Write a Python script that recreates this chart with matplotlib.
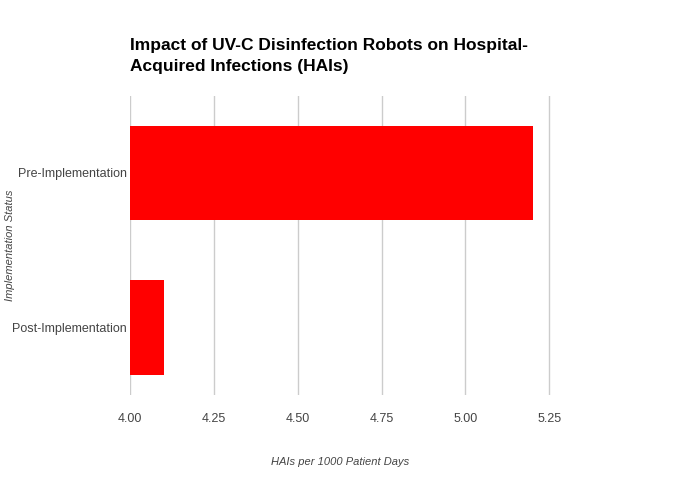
import matplotlib
matplotlib.use("Agg")
import matplotlib.pyplot as plt

plt.rcParams["font.family"] = ["Liberation Sans", "DejaVu Sans"]

categories = ["Post-Implementation", "Pre-Implementation"]
hai_rates = [4.1, 5.2]
x_ticks = [4.00, 4.25, 4.50, 4.75, 5.00, 5.25]
base = 4.0

fig = plt.figure(figsize=(6.8, 5.0), dpi=100)
ax = fig.add_axes([130 / 680, 105 / 500, 421 / 680, 299 / 500])

ypos = list(range(len(categories)))
ax.barh(ypos, [v - base for v in hai_rates], left=base, height=0.61, color="#ff0000", zorder=2)

ax.set_xlim(4.0, 5.255)
ax.set_ylim(-0.437, 1.498)
ax.set_xticks(x_ticks)
ax.set_xticklabels([f"{t:.2f}" for t in x_ticks])
ax.set_yticks(ypos)
ax.set_yticklabels(categories)
ax.grid(axis="x", color="#cccccc", linewidth=1, zorder=0)
ax.tick_params(axis="both", length=0, labelsize=9, colors="#444444")
ax.tick_params(axis="x", pad=13)
ax.tick_params(axis="y", pad=2)
for s in ax.spines.values():
    s.set_visible(False)

# axis titles placed in figure pixels to match the reference
fig.text(340 / 680, 1 - 462 / 500, "HAIs per 1000 Patient Days",
         fontsize=8, style="italic", color="#444444", ha="center", va="center")
fig.text(10 / 680, 1 - 245 / 500, "Implementation Status", rotation=90,
         fontsize=8, style="italic", color="#444444", ha="center", va="center")

fig.text(130 / 680, 1 - 38 / 500,
         "Impact of UV-C Disinfection Robots on Hospital-\nAcquired Infections (HAIs)",
         fontsize=12.5, fontweight="bold", color="#000000", ha="left", va="top", linespacing=1.5)

fig.savefig("out.png", dpi=100)
